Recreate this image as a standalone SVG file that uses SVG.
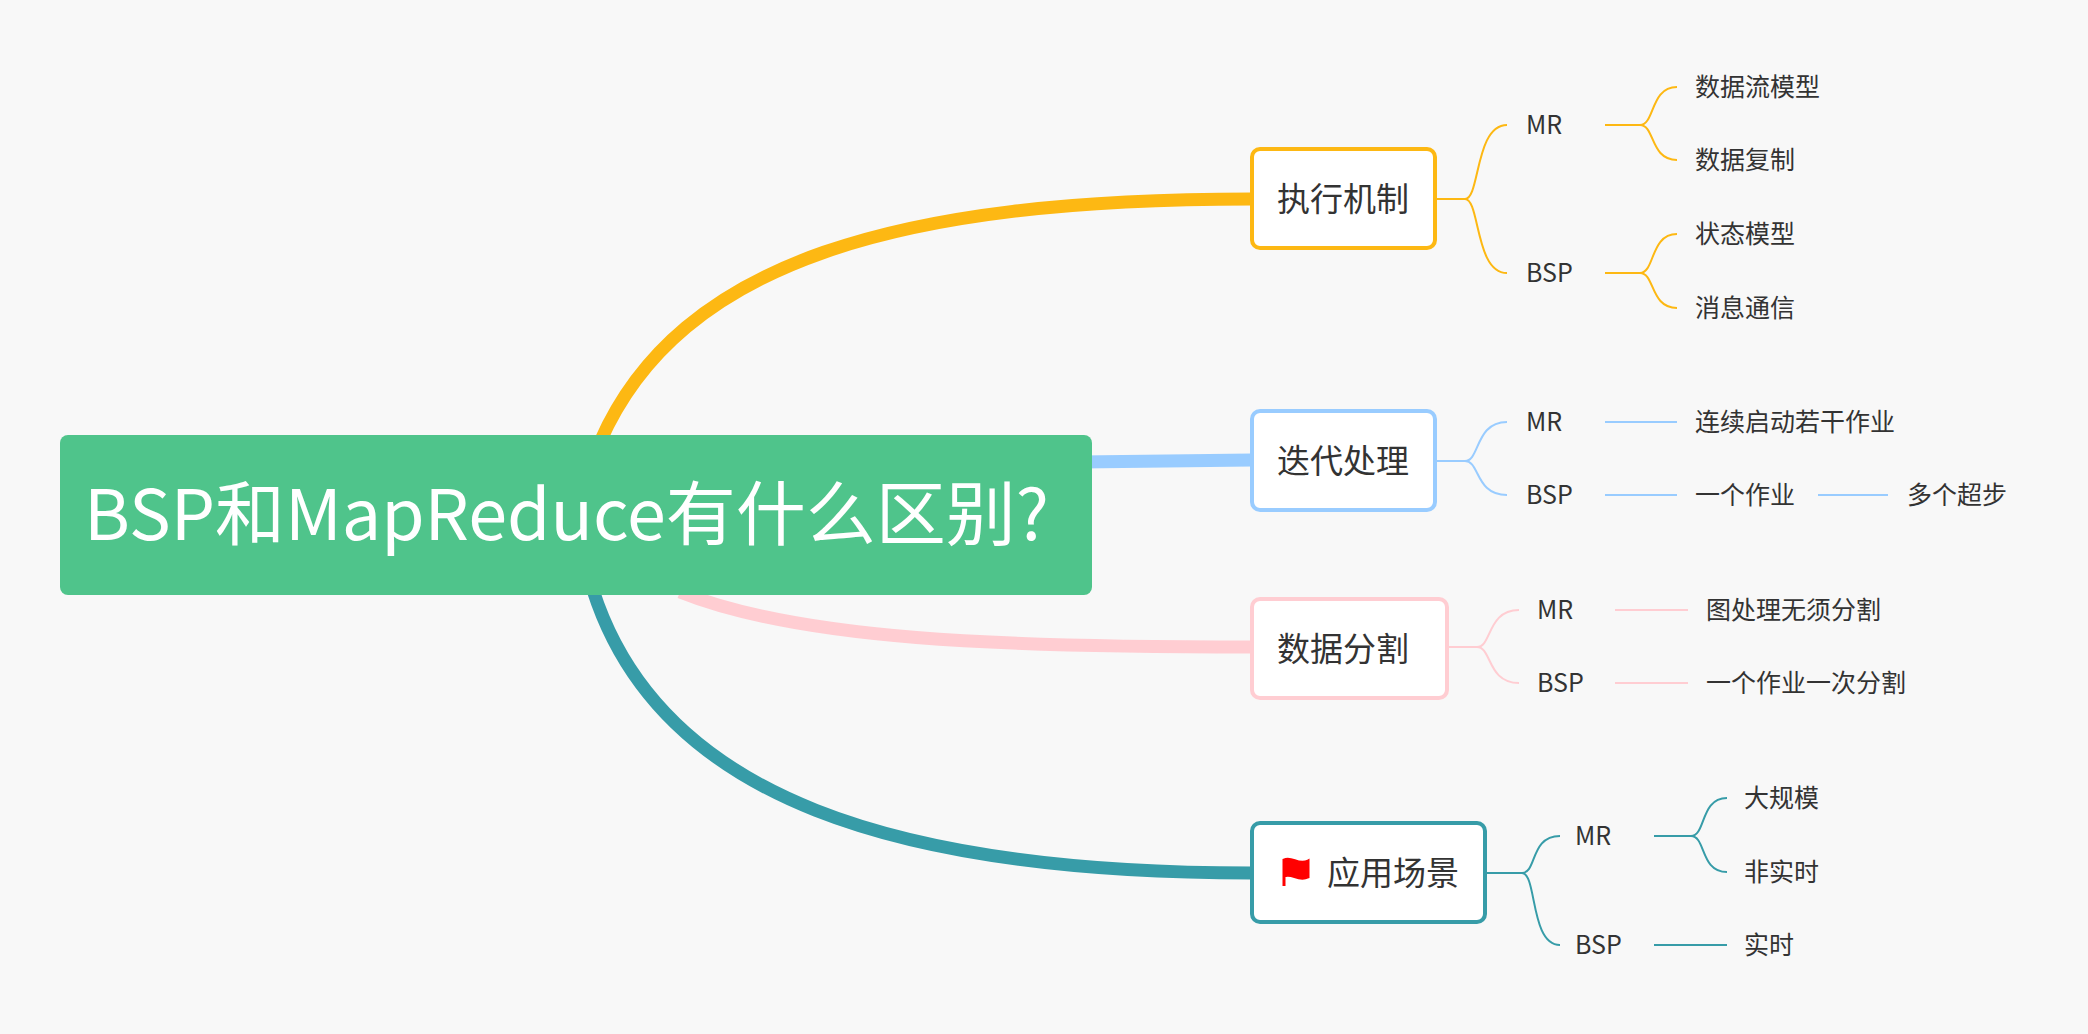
<svg xmlns="http://www.w3.org/2000/svg" width="2088" height="1034" viewBox="0 0 2088 1034">
<style>
.t{font-family:"Noto Sans CJK SC","Liberation Sans",sans-serif;fill:#333}
.s{font-size:25px}
.b{font-size:33px}
.box{fill:#fff;stroke-width:4}
.thin{fill:none;stroke-width:2}
</style>
<rect width="2088" height="1034" fill="#f8f8f8"/>
<g id="connectors" fill="none">
<path d="M600 442 C680 260 900 199 1252 199" stroke="#FDB813" stroke-width="13"/>
<path d="M1080 462 L1252 460" stroke="#99CCFF" stroke-width="13"/>
<path d="M680 592 C800 640 1000 647 1252 647" stroke="#FFCDD2" stroke-width="13"/>
<path d="M593 590 C660 800 900 873 1252 873" stroke="#379CA8" stroke-width="13"/>
<g class="thin" stroke="#FDB813">
<path d="M1435 199 H1465 C1480 199 1475 125 1507 125"/>
<path d="M1465 199 C1480 199 1475 273 1507 273"/>
<path d="M1605 125 H1640 C1655 125 1650 87 1677 87"/>
<path d="M1640 125 C1655 125 1650 160 1677 160"/>
<path d="M1605 273 H1640 C1655 273 1650 234 1677 234"/>
<path d="M1640 273 C1655 273 1650 308 1677 308"/>
</g>
<g class="thin" stroke="#99CCFF">
<path d="M1435 461 H1465 C1480 461 1475 422 1507 422"/>
<path d="M1465 461 C1480 461 1475 495 1507 495"/>
<path d="M1605 422 H1677"/>
<path d="M1605 495 H1677"/>
<path d="M1818 495 H1888"/>
</g>
<g class="thin" stroke="#FFCDD2">
<path d="M1447 647 H1477 C1492 647 1487 610 1519 610"/>
<path d="M1477 647 C1492 647 1487 683 1519 683"/>
<path d="M1615 610 H1688"/>
<path d="M1615 683 H1688"/>
</g>
<g class="thin" stroke="#379CA8">
<path d="M1485 873 H1522 C1537 873 1530 836 1560 836"/>
<path d="M1522 873 C1537 873 1530 945 1560 945"/>
<path d="M1654 836 H1691 C1706 836 1700 798 1727 798"/>
<path d="M1691 836 C1706 836 1700 872 1727 872"/>
<path d="M1654 945 H1727"/>
</g>
</g>
<g id="root">
<rect x="60" y="435" width="1032" height="160" rx="8" fill="#4FC48B"/>
<text x="84" y="540" class="t" style="fill:#fff;font-size:70px">BSP和MapReduce有什么区别?</text>
</g>
<g id="n1"><rect class="box" x="1252" y="149" width="183" height="99" rx="8" stroke="#FDB813"/><text x="1343" y="211" class="t b" text-anchor="middle">执行机制</text></g>
<g id="n2"><rect class="box" x="1252" y="411" width="183" height="99" rx="8" stroke="#99CCFF"/><text x="1343" y="473" class="t b" text-anchor="middle">迭代处理</text></g>
<g id="n3"><rect class="box" x="1252" y="599" width="195" height="99" rx="8" stroke="#FFCDD2"/><text x="1343" y="661" class="t b" text-anchor="middle">数据分割</text></g>
<g id="n4"><rect class="box" x="1252" y="823" width="233" height="99" rx="8" stroke="#379CA8"/>
<path d="M1284 860 V886 M1284 860 C1292 856 1298 866 1308 861 V877 C1298 882 1292 872 1284 876 Z" fill="#f00" stroke="#f00" stroke-width="3"/>
<text x="1327" y="885" class="t b">应用场景</text></g>
<g id="leaves" class="t s">
<text x="1526" y="134">MR</text><text x="1526" y="282">BSP</text>
<text x="1695" y="96">数据流模型</text><text x="1695" y="169">数据复制</text>
<text x="1695" y="243">状态模型</text><text x="1695" y="317">消息通信</text>
<text x="1526" y="431">MR</text><text x="1526" y="504">BSP</text>
<text x="1695" y="431">连续启动若干作业</text><text x="1695" y="504">一个作业</text><text x="1907" y="504">多个超步</text>
<text x="1537" y="619">MR</text><text x="1537" y="692">BSP</text>
<text x="1706" y="619">图处理无须分割</text><text x="1706" y="692">一个作业一次分割</text>
<text x="1575" y="845">MR</text><text x="1575" y="954">BSP</text>
<text x="1744" y="807">大规模</text><text x="1744" y="881">非实时</text><text x="1744" y="954">实时</text>
</g>
</svg>
